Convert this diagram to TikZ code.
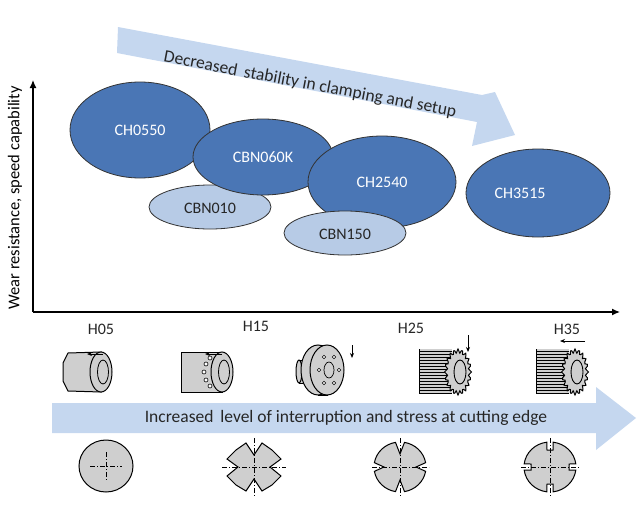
\documentclass[tikz,border=0pt]{standalone}
\usepackage{fontspec}
\setmainfont{Carlito}
\usetikzlibrary{arrows.meta}
\definecolor{dk}{HTML}{4A76B5}
\definecolor{lt}{HTML}{B7CBE6}
\definecolor{arr}{HTML}{C5D7EF}
\definecolor{gr}{HTML}{CFCFCF}
\begin{document}
\begin{tikzpicture}[x=1pt,y=-1pt,
 dark/.style={draw=black!80,line width=0.8pt,fill=dk},
 light/.style={draw=black!80,line width=0.8pt,fill=lt},
 wt/.style={text=white,font=\fontsize{16}{18}\selectfont},
 bt/.style={text=black!85,font=\fontsize{16}{18}\selectfont},
 lab/.style={font=\fontsize{16}{18}\selectfont,text=black!85},
 big/.style={font=\fontsize{17.5}{20}\selectfont,text=black!85},
 part/.style={draw=black,line width=1pt,fill=gr},
 sa/.style={-{Stealth[length=5pt,width=4pt]},line width=0.9pt},
 axis/.style={line width=1.3pt,-{Latex[length=8pt,width=7pt]}}]
\useasboundingbox (0,0) rectangle (640,522);
% top arrow
\fill[arr] (118,27) -- (482,95) -- (495,92) -- (515,135) -- (472,146) -- (477,122) -- (117,53) -- cycle;
\node[big,rotate=-10.7] (t1) at (310,85) {Decreased\, stability in clamping and setup};
% axes
\coordinate (o) at (33,312);
\coordinate (yt) at (33,80);
\coordinate (xt) at (620,312);
\draw[axis] (o) -- (yt);
\draw[axis] (o) -- (xt);
\node[font=\fontsize{16.5}{18}\selectfont,rotate=90] (yl) at (15,198) {Wear resistance, speed capability};
% ellipses
\draw[dark] (140,130) ellipse (70 and 48);
\node[wt] (e1) at (140,130) {CH0550};
\draw[light] (210,207) ellipse (61 and 22);
\node[bt] (e2) at (210,208) {CBN010};
\draw[dark] (263,157) ellipse (70 and 38);
\node[wt] (e3) at (263,157) {CBN060K};
\draw[dark] (538,193) ellipse (72 and 44);
\node[wt] (e6) at (520,193) {CH3515};
\draw[dark] (382,182) ellipse (74 and 46);
\node[wt] (e4) at (382,182) {CH2540};
\draw[light] (345,233) ellipse (61 and 22);
\node[bt] (e5) at (345,234) {CBN150};
% H labels
\node[lab] (h1) at (101,329) {H05};
\node[lab] (h2) at (256,326) {H15};
\node[lab] (h3) at (411,328) {H25};
\node[lab] (h4) at (567,329) {H35};
% bottom arrow
\fill[arr] (52,403) -- (596,403) -- (596,387) -- (636,418) -- (596,450) -- (596,433) -- (52,433) -- cycle;
\node[big] (t2) at (346,418) {Increased\, level of interruption and stress at cutting edge};
% parts row 1
% H05
\draw[part] (68,353) -- (101,352) -- (101,392) -- (68,391) -- (63,381) -- (63,363) -- cycle;
\draw[part] (101,372) ellipse (11 and 20);
\draw[line width=0.8pt] (103,372) ellipse (5.5 and 12);
\draw[sa] (103,354) -- (87,354);
% H15
\draw[part] (181,352) -- (222,352) -- (222,392) -- (181,392) -- cycle;
\draw[part] (222,372) ellipse (11 and 20);
\draw[line width=0.8pt] (224,372) ellipse (5.5 and 12);
\foreach \p in {(206,364),(204,372),(206,380),(210,358),(210,386)} \draw[line width=0.6pt,fill=white] \p circle (2);
\draw[sa] (222,354) -- (205,354);
% H25 (disk)
\draw[part] (299,360) rectangle (310,383);
\draw[part] (299,371.5) ellipse (3 and 11.5);
\draw[part] (318,345) -- (327,345) -- (327,395) -- (318,395) -- cycle;
\draw[part] (318,370) ellipse (17 and 25);
\draw[part] (327,370) ellipse (17 and 25);
\draw[line width=0.7pt] (329,370) ellipse (5 and 8);
\foreach \a in {0,60,...,300} \draw[line width=0.6pt,fill=white] ({329+10*cos(\a)},{370+15*sin(\a)}) circle (1.8);
\draw[sa] (352,345) -- (352,358);
% H35 gears
\foreach \cx in {460,577}{
 \fill[gr] (\cx-40,349) rectangle (\cx-8,394);
 \foreach \yy in {351,354,...,393} \draw[line width=0.45pt] (\cx-41,\yy) -- (\cx-8,\yy);
 \draw[line width=0.9pt] (\cx-41,349) -- (\cx-41,394);
 \draw[part] plot[domain=0:360,samples=73,smooth cycle] ({\cx-2+(12+1.5*cos(20*\x))*cos(\x)},{372+(21+2*cos(20*\x))*sin(\x)});
 \draw[line width=0.9pt] (\cx,372) ellipse (6 and 12);
}
\draw[sa] (468,335) -- (468,352);
\draw[sa] (585,341) -- (560,341);
% cross sections row 2
\tikzset{cl/.style={line width=0.6pt,dash pattern=on 5pt off 2pt on 1pt off 2pt}}
\draw[part] (106,466) ellipse (27 and 26);
\draw[cl] (90,466) -- (122,466); \draw[cl] (106,452) -- (106,481);
% H15 section
\draw[part] (246,443) -- (236,450) -- (227,459) -- (238,467) -- (227,476) -- (236,485) -- (246,491) -- (254,479) -- (262,491) -- (272,485) -- (281,476) -- (270,467) -- (281,459) -- (272,450) -- (262,443) -- (254,455) -- cycle;
\draw[cl] (222,467) -- (286,467); \draw[cl] (254,438) -- (254,496);
% H25 section
\draw[part] ({400+26*cos(100)},{467-25*sin(100)}) -- (400,454) -- ({400+26*cos(80)},{467-25*sin(80)}) arc (-80:-10:26 and 25)
 -- (416,467) -- ({400+26*cos(10)},{467+25*sin(10)}) arc (10:80:26 and 25)
 -- (400,480) -- ({400+26*cos(100)},{467+25*sin(100)}) arc (100:170:26 and 25)
 -- (384,467) -- ({400+26*cos(170)},{467-25*sin(170)}) arc (-170:-100:26 and 25) -- cycle;
\draw[cl] (372,467) -- (429,467); \draw[cl] (400,438) -- (400,496);
% H35 section
\draw[part] ({550+26*cos(97)},{467-25*sin(97)}) -- (547,450) -- (553,450) -- ({550+26*cos(83)},{467-25*sin(83)}) arc (-83:-7:26 and 25)
 -- (569,464) -- (569,470) -- ({550+26*cos(7)},{467+25*sin(7)}) arc (7:83:26 and 25)
 -- (553,484) -- (547,484) -- ({550+26*cos(97)},{467+25*sin(97)}) arc (97:173:26 and 25)
 -- (531,470) -- (531,464) -- ({550+26*cos(173)},{467-25*sin(173)}) arc (-173:-97:26 and 25) -- cycle;
\draw[cl] (521,467) -- (580,467); \draw[cl] (550,438) -- (550,496);
\end{tikzpicture}
\end{document}
